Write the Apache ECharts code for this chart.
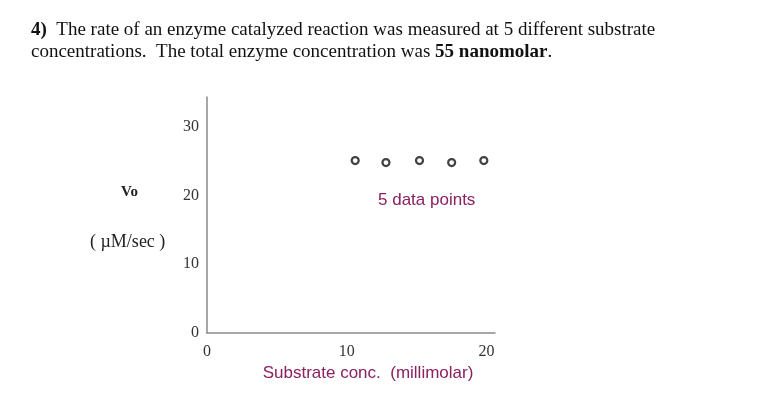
<!DOCTYPE html>
<html>
<head>
<meta charset="utf-8">
<script src="https://cdn.jsdelivr.net/npm/echarts@6/dist/echarts.min.js"></script>
<style>
  html, body { margin: 0; padding: 0; background: #fff; }
  #main { width: 757px; height: 400px; }
</style>
</head>
<body>
<div id="main"></div>
<script>
// substrate concentration (mM) and initial rate (uM/sec)
var substrate = [10.6, 12.8, 15.2, 17.5, 19.8];
var rates = [25.1, 24.8, 25.1, 24.8, 25.1];
var xTicks = [0, 10, 20];
var yTicks = [0, 10, 20, 30];

var accent = "#8b2160";
var serif = "'Liberation Serif', 'DejaVu Serif', serif";
var sans = "'Liberation Sans', Arial, sans-serif";

var points = substrate.map(function (s, i) { return [s, rates[i]]; });

var chart = echarts.init(document.getElementById("main"));
var option = {
    animation: false,
    backgroundColor: "#fff",
    title: [
        {
            left: 31, top: 19, padding: 0,
            text: "{b|4)}  The rate of an enzyme catalyzed reaction was measured at 5 different substrate\n" +
                  "concentrations.  The total enzyme concentration was {b|55 nanomolar}.",
            textStyle: {
                fontFamily: serif, fontSize: 19, fontWeight: "normal", color: "#111", lineHeight: 22,
                rich: { b: { fontFamily: serif, fontSize: 19, fontWeight: "bold", color: "#111" } }
            }
        },
        {   // y axis title, placed like the original
            left: 121, top: 185, padding: 0,
            text: "Vo",
            textStyle: { fontFamily: serif, fontSize: 15, fontWeight: "bold", color: "#222" }
        },
        {
            left: 90, top: 233, padding: 0,
            text: "( \u00b5M/sec )",
            textStyle: { fontFamily: serif, fontSize: 18, fontWeight: "normal", color: "#222" }
        },
        {
            left: 378, top: 192, padding: 0,
            text: "5 data points",
            textStyle: { fontFamily: sans, fontSize: 17, fontWeight: "normal", color: accent }
        }
    ],
    grid: { left: 207, top: 97, right: 262, bottom: 67, containLabel: false },
    xAxis: {
        type: "value",
        min: 0, max: 20.6, interval: 10,
        name: "Substrate conc.  (millimolar)",
        nameLocation: "middle",
        nameGap: 31,
        nameTextStyle: { fontFamily: sans, fontSize: 17, color: accent, padding: [0, 0, 0, 34] },
        axisLine: { lineStyle: { color: "#8a8a8a", width: 1.5 } },
        axisTick: { show: false },
        splitLine: { show: false },
        axisLabel: {
            fontFamily: serif, fontSize: 16, color: "#333", margin: 11,
            showMaxLabel: true,
            formatter: function (v) { return xTicks.indexOf(v) >= 0 ? String(v) : ""; }
        }
    },
    yAxis: {
        type: "value",
        min: 0, max: 34.35, interval: 10,
        axisLine: { show: true, lineStyle: { color: "#8a8a8a", width: 1.5 } },
        axisTick: { show: false },
        splitLine: { show: false },
        axisLabel: {
            fontFamily: serif, fontSize: 16, color: "#333", margin: 8,
            padding: [0, 0, 10, 0],
            showMaxLabel: false,
            formatter: function (v) { return yTicks.indexOf(v) >= 0 ? String(v) : ""; }
        }
    },
    series: [{
        type: "scatter",
        data: points,
        symbol: "circle",
        symbolSize: 7,
        itemStyle: { color: "#fff", borderColor: "#111", borderWidth: 2.2 }
    }]
};
chart.setOption(option);
</script>
</body>
</html>
